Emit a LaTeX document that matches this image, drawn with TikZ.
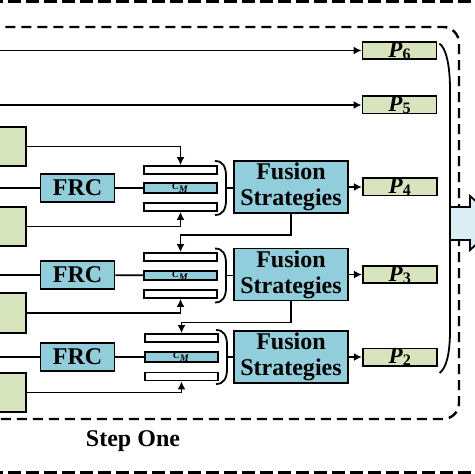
\documentclass[tikz,border=0pt]{standalone}
\usepackage{fontspec}
\setmainfont{Liberation Serif}
\usepackage{tikz}
\usetikzlibrary{arrows.meta, positioning, calc}

\definecolor{featgreen}{RGB}{215,228,189}
\definecolor{boxblue}{RGB}{146,205,220}
\definecolor{arrowblue}{RGB}{218,238,243}

% brace that gathers the three bars of one group
\newcommand{\groupbrace}[1]{%
  \draw ($(#1)+(-11,-27)$) .. controls ($(#1)+(-3,-27)$) and ($(#1)+(0,-21)$) .. ($(#1)+(0,-12)$)
    -- ($(#1)+(0,12)$) .. controls ($(#1)+(0,21)$) and ($(#1)+(-3,27)$) .. ($(#1)+(-11,27)$);}
% output label P with its index
\newcommand{\plabel}[1]{\textit{P}\raisebox{-1pt}{\fontsize{8}{8}\selectfont #1}}

\begin{document}
\begin{tikzpicture}[x=0.5pt, y=-0.5pt, line width=0.9pt, >={Latex[length=4pt,width=4pt]},
    feat/.style={draw, rectangle, fill=featgreen, minimum width=30pt, minimum height=19.6pt, anchor=east},
    frc/.style={draw, rectangle, fill=boxblue, minimum width=37pt, minimum height=14pt, inner sep=0pt, font=\fontsize{12}{13}\selectfont\bfseries},
    bar/.style={draw, rectangle, fill=white, minimum width=36.5pt, minimum height=4pt, inner sep=0pt},
    midbar/.style={bar, fill=boxblue, font=\fontsize{5}{5}\selectfont\bfseries\itshape},
    fusion/.style={draw, rectangle, fill=boxblue, minimum width=57pt, minimum height=26pt, inner sep=1pt, align=center, font=\fontsize{12}{13}\selectfont\bfseries},
    pbox/.style={draw, rectangle, fill=featgreen, minimum width=37pt, minimum height=8.6pt, inner xsep=0pt, inner ysep=0pt, text height=7.6pt, text depth=1pt, font=\fontsize{11.5}{12}\selectfont\bfseries},
    frame/.style={line width=1.2pt, dash pattern=on 5pt off 3pt},
    outer/.style={line width=2pt, dash pattern=on 6.5pt off 2.5pt}]

    \useasboundingbox (0,0) rectangle (474,474);

    % dashed frames
    \draw[outer] (-10,1) -- (490,1);
    \draw[outer] (-10,473) -- (490,473);
    \draw[frame, rounded corners=8pt] (-30,27) rectangle (459,419);

    % feature maps on the left
    \node[feat] (feat1) at (27,146.5) {};
    \node[feat] (feat2) at (27,226.5) {};
    \node[feat] (feat3) at (27,313) {};
    \node[feat] (feat4) at (27,392.5) {};

    \node[frc] (frc1) at (77.5,188) {FRC};
    \node[frc] (frc2) at (77.5,275) {FRC};
    \node[frc] (frc3) at (77.5,357) {FRC};

    % stacked bars
    \node[bar] (bar11) at (180.5,170) {};
    \node[midbar] (bar12) at (180.5,188) {C\textsubscript{M}};
    \node[bar] (bar13) at (180.5,207) {};
    \node[bar] (bar21) at (180.5,257) {};
    \node[midbar] (bar22) at (180.5,275.5) {C\textsubscript{M}};
    \node[bar] (bar23) at (180.5,294) {};
    \node[bar] (bar31) at (181.5,338) {};
    \node[midbar] (bar32) at (181.5,357) {C\textsubscript{M}};
    \node[bar] (bar33) at (181.5,376.5) {};

    \node[fusion] (fs1) at (291,187) {Fusion\\Strategies};
    \node[fusion] (fs2) at (291,274.5) {Fusion\\Strategies};
    \node[fusion] (fs3) at (291,357) {Fusion\\Strategies};

    \node[pbox] (p6) at (399.5,50.5) {\plabel{6}};
    \node[pbox] (p5) at (399.5,105) {\plabel{5}};
    \node[pbox, right=6.5pt of fs1] (p4) {\plabel{4}};
    \node[pbox, right=6.5pt of fs2] (p3) {\plabel{3}};
    \node[pbox, right=6.5pt of fs3] (p2) {\plabel{2}};

    \node[font=\fontsize{12}{13}\selectfont\bfseries] (stepone) at (133,441) {Step One};

    % free ends at the left border
    \coordinate (in6) at (0,50.5);
    \coordinate (in5) at (0,105);
    \coordinate (inf1) at (0,188);
    \coordinate (inf2) at (0,275);
    \coordinate (inf3) at (0,357);

    \draw[->] (in6) -- (p6);
    \draw[->] (in5) -- (p5);

    \draw (inf1) -- (frc1);
    \draw (inf2) -- (frc2);
    \draw (inf3) -- (frc3);
    \draw (frc1) -- (bar12);
    \draw (frc2) -- (bar22);
    \draw (frc3) -- (bar32);

    \draw[->] (feat1.east) -| (bar11.north);
    \draw[->] (feat2.east) -| (bar13.south);
    \draw[->] (feat3.east) -| (bar23.south);
    \draw[->] (feat4.east) -| (bar33.south);

    \draw[->] (fs1.south) -- ++(0,21) -| (bar21.north);
    \draw[->] (fs2.south) -- ++(0,21) -| (bar31.north);

    % braces into the fusion boxes
    \coordinate (br1) at (226,188);
    \coordinate (br2) at (226,275.5);
    \coordinate (br3) at (227,357);
    \groupbrace{br1}
    \groupbrace{br2}
    \groupbrace{br3}
    \draw (br1) -- (br1 -| fs1.west);
    \draw (br2) -- (br2 -| fs2.west);
    \draw (br3) -- (br3 -| fs3.west);

    \draw[->] (fs1) -- (p4);
    \draw[->] (fs2) -- (p3);
    \draw[->] (fs3) -- (p2);

    % big brace on the right and the output arrow
    \coordinate (bigtop) at (450,90);
    \coordinate (bigbot) at (450,330);
    \draw ($(p6.east)+(2,-7)$) .. controls (446,48) and (450,65) .. (bigtop)
        -- (bigbot) .. controls (450,355) and (446,368) .. ($(p2.east)+(2,16)$);
    \draw[fill=arrowblue] (450,207) -- (470,207) -- (470,196) -- (500,223) -- (470,250)
        -- (470,240) -- (450,240) -- cycle;
\end{tikzpicture}
\end{document}
